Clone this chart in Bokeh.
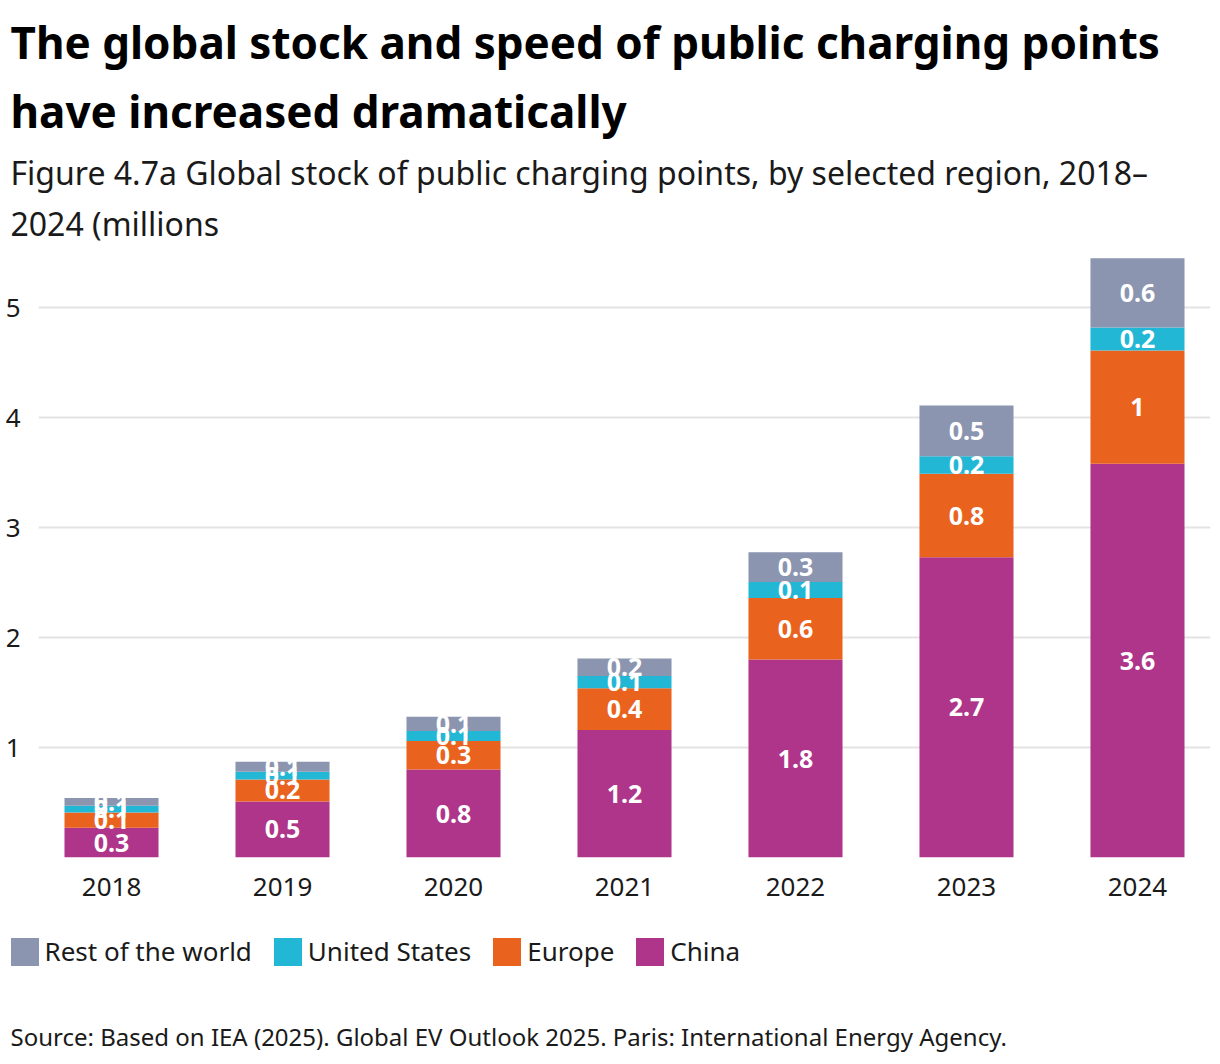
from bokeh.plotting import figure
from bokeh.layouts import column, row
from bokeh.models import (ColumnDataSource, FixedTicker, Title, Legend, LegendItem,
                          Range1d, Label)
from bokeh.core.properties import value
from bokeh.embed import file_html
from bokeh.resources import INLINE

# ---- data (millions of public charging points) ----
years = ["2018", "2019", "2020", "2021", "2022", "2023", "2024"]
china = [0.27, 0.51, 0.80, 1.16, 1.80, 2.73, 3.58]
europe = [0.14, 0.20, 0.26, 0.38, 0.56, 0.76, 1.03]
united_states = [0.06, 0.07, 0.09, 0.11, 0.145, 0.16, 0.21]
rest_of_world = [0.07, 0.09, 0.13, 0.16, 0.27, 0.46, 0.63]
series_names = ["China", "Europe", "United States", "Rest of the world"]
series_colors = ["#AE3589", "#E9631F", "#23B7D6", "#8B95B0"]
y_ticks = [1, 2, 3, 4, 5]

title_lines = ["The global stock and speed of public charging points",
               "have increased dramatically"]
subtitle_lines = ["Figure 4.7a Global stock of public charging points, by selected region, 2018\u2013",
                  "2024 (millions"]
source_text = "Source: Based on IEA (2025). Global EV Outlook 2025. Paris: International Energy Agency."

FONT = "Noto Sans"

xs = list(range(len(years)))
series_values = [china, europe, united_states, rest_of_world]
keys = ["china", "europe", "united_states", "rest_of_world"]

src = ColumnDataSource(dict(x=xs, china=china, europe=europe,
                            united_states=united_states, rest_of_world=rest_of_world))

# ---------------- main chart ----------------
p = figure(width=1220, height=927, output_backend="svg", toolbar_location=None,
           x_range=Range1d(-0.427, 6.427), y_range=Range1d(0, 5.52),
           title=None, min_border_left=38, min_border_right=10,
           min_border_top=250, min_border_bottom=70)
p.outline_line_color = None
p.background_fill_color = "white"
p.border_fill_color = "white"

renderers = p.vbar_stack(keys, x="x", width=0.55, source=src,
                         color=series_colors, line_color=None)

# data labels
def fmt(v):
    s = f"{v:.1f}"
    return s[:-2] if s.endswith(".0") else s

cum = [0.0] * len(xs)
for vals in series_values:
    mids, texts = [], []
    for i, v in enumerate(vals):
        mids.append(cum[i] + v / 2)
        texts.append(fmt(v))
        cum[i] += v
    lsrc = ColumnDataSource(dict(x=xs, y=mids, t=texts))
    kw = dict(x="x", y="y", text="t", source=lsrc, text_align="center",
              text_baseline="middle", text_font=value(FONT), text_font_style="bold",
              text_font_size="25px", text_color="white")
    try:
        p.text(text_outline_color="#3a3a3a", text_outline_alpha=0.55, **kw)
    except Exception:
        p.text(**kw)

# axes
p.xaxis.ticker = FixedTicker(ticks=xs)
p.xaxis.major_label_overrides = {i: y for i, y in zip(xs, years)}
p.xaxis.axis_line_color = None
p.xaxis.major_tick_line_color = None
p.xaxis.minor_tick_line_color = None
p.xaxis.major_label_text_font = FONT
p.xaxis.major_label_text_font_size = "26px"
p.xaxis.major_label_text_color = "#1a1a1a"
p.xaxis.major_label_standoff = 14

p.yaxis.ticker = FixedTicker(ticks=y_ticks)
p.yaxis.axis_line_color = None
p.yaxis.major_tick_line_color = None
p.yaxis.minor_tick_line_color = None
p.yaxis.major_label_text_font = FONT
p.yaxis.major_label_text_font_size = "26px"
p.yaxis.major_label_text_color = "#1a1a1a"
p.yaxis.major_label_standoff = 12

p.xgrid.grid_line_color = None
p.ygrid.grid_line_color = "#e3e3e3"
p.ygrid.grid_line_width = 2

# titles (added from the frame outward)
sub_standoffs = [12, 0]   # line 2 (closest to frame), then line 1
for line, so in zip(reversed(subtitle_lines), sub_standoffs):
    p.add_layout(Title(text=line, align="left", offset=-28, text_font=FONT,
                       text_font_size="32px", text_font_style="normal",
                       text_color="#1a1a1a", standoff=so), "above")
title_standoffs = [15, 0]
for line, so in zip(reversed(title_lines), title_standoffs):
    p.add_layout(Title(text=line, align="left", offset=-28, text_font=FONT,
                       text_font_size="44px", text_font_style="bold",
                       text_color="#000000", standoff=so), "above")

# ---------------- legend + source strip ----------------
q = figure(width=1220, height=137, output_backend="svg", toolbar_location=None,
           x_range=Range1d(20, 21), y_range=Range1d(50, 51), title=None,
           x_axis_type=None, y_axis_type=None,
           min_border_left=0, min_border_right=0, min_border_top=0, min_border_bottom=0)
q.outline_line_color = None
q.grid.visible = False
q.background_fill_color = "white"
q.border_fill_color = "white"

# legend proxies: same stacked series, zero width and outside this strip's ranges
proxy = q.vbar_stack(keys, x="x", width=0.0, source=src,
                     color=series_colors, line_color=None)

order = [3, 2, 1, 0]
legend = Legend(items=[LegendItem(label=series_names[k], renderers=[proxy[k]]) for k in order],
                orientation="horizontal", location=(6.5, 95),
                glyph_width=35, glyph_height=35, label_standoff=3, spacing=18,
                padding=0, margin=0, border_line_alpha=0, background_fill_alpha=0,
                label_text_font=FONT, label_text_font_size="26px",
                label_text_color="#1a1a1a", label_text_baseline="middle")
q.add_layout(legend, "center")

q.add_layout(Label(x=10, y=28, x_units="screen", y_units="screen", text=source_text,
                   text_font=FONT, text_font_size="24px", text_color="#1a1a1a",
                   text_baseline="alphabetic", text_align="left"))

layout = column(p, row(q, spacing=0), spacing=0)
open("out.html", "w").write(file_html(layout, INLINE))
